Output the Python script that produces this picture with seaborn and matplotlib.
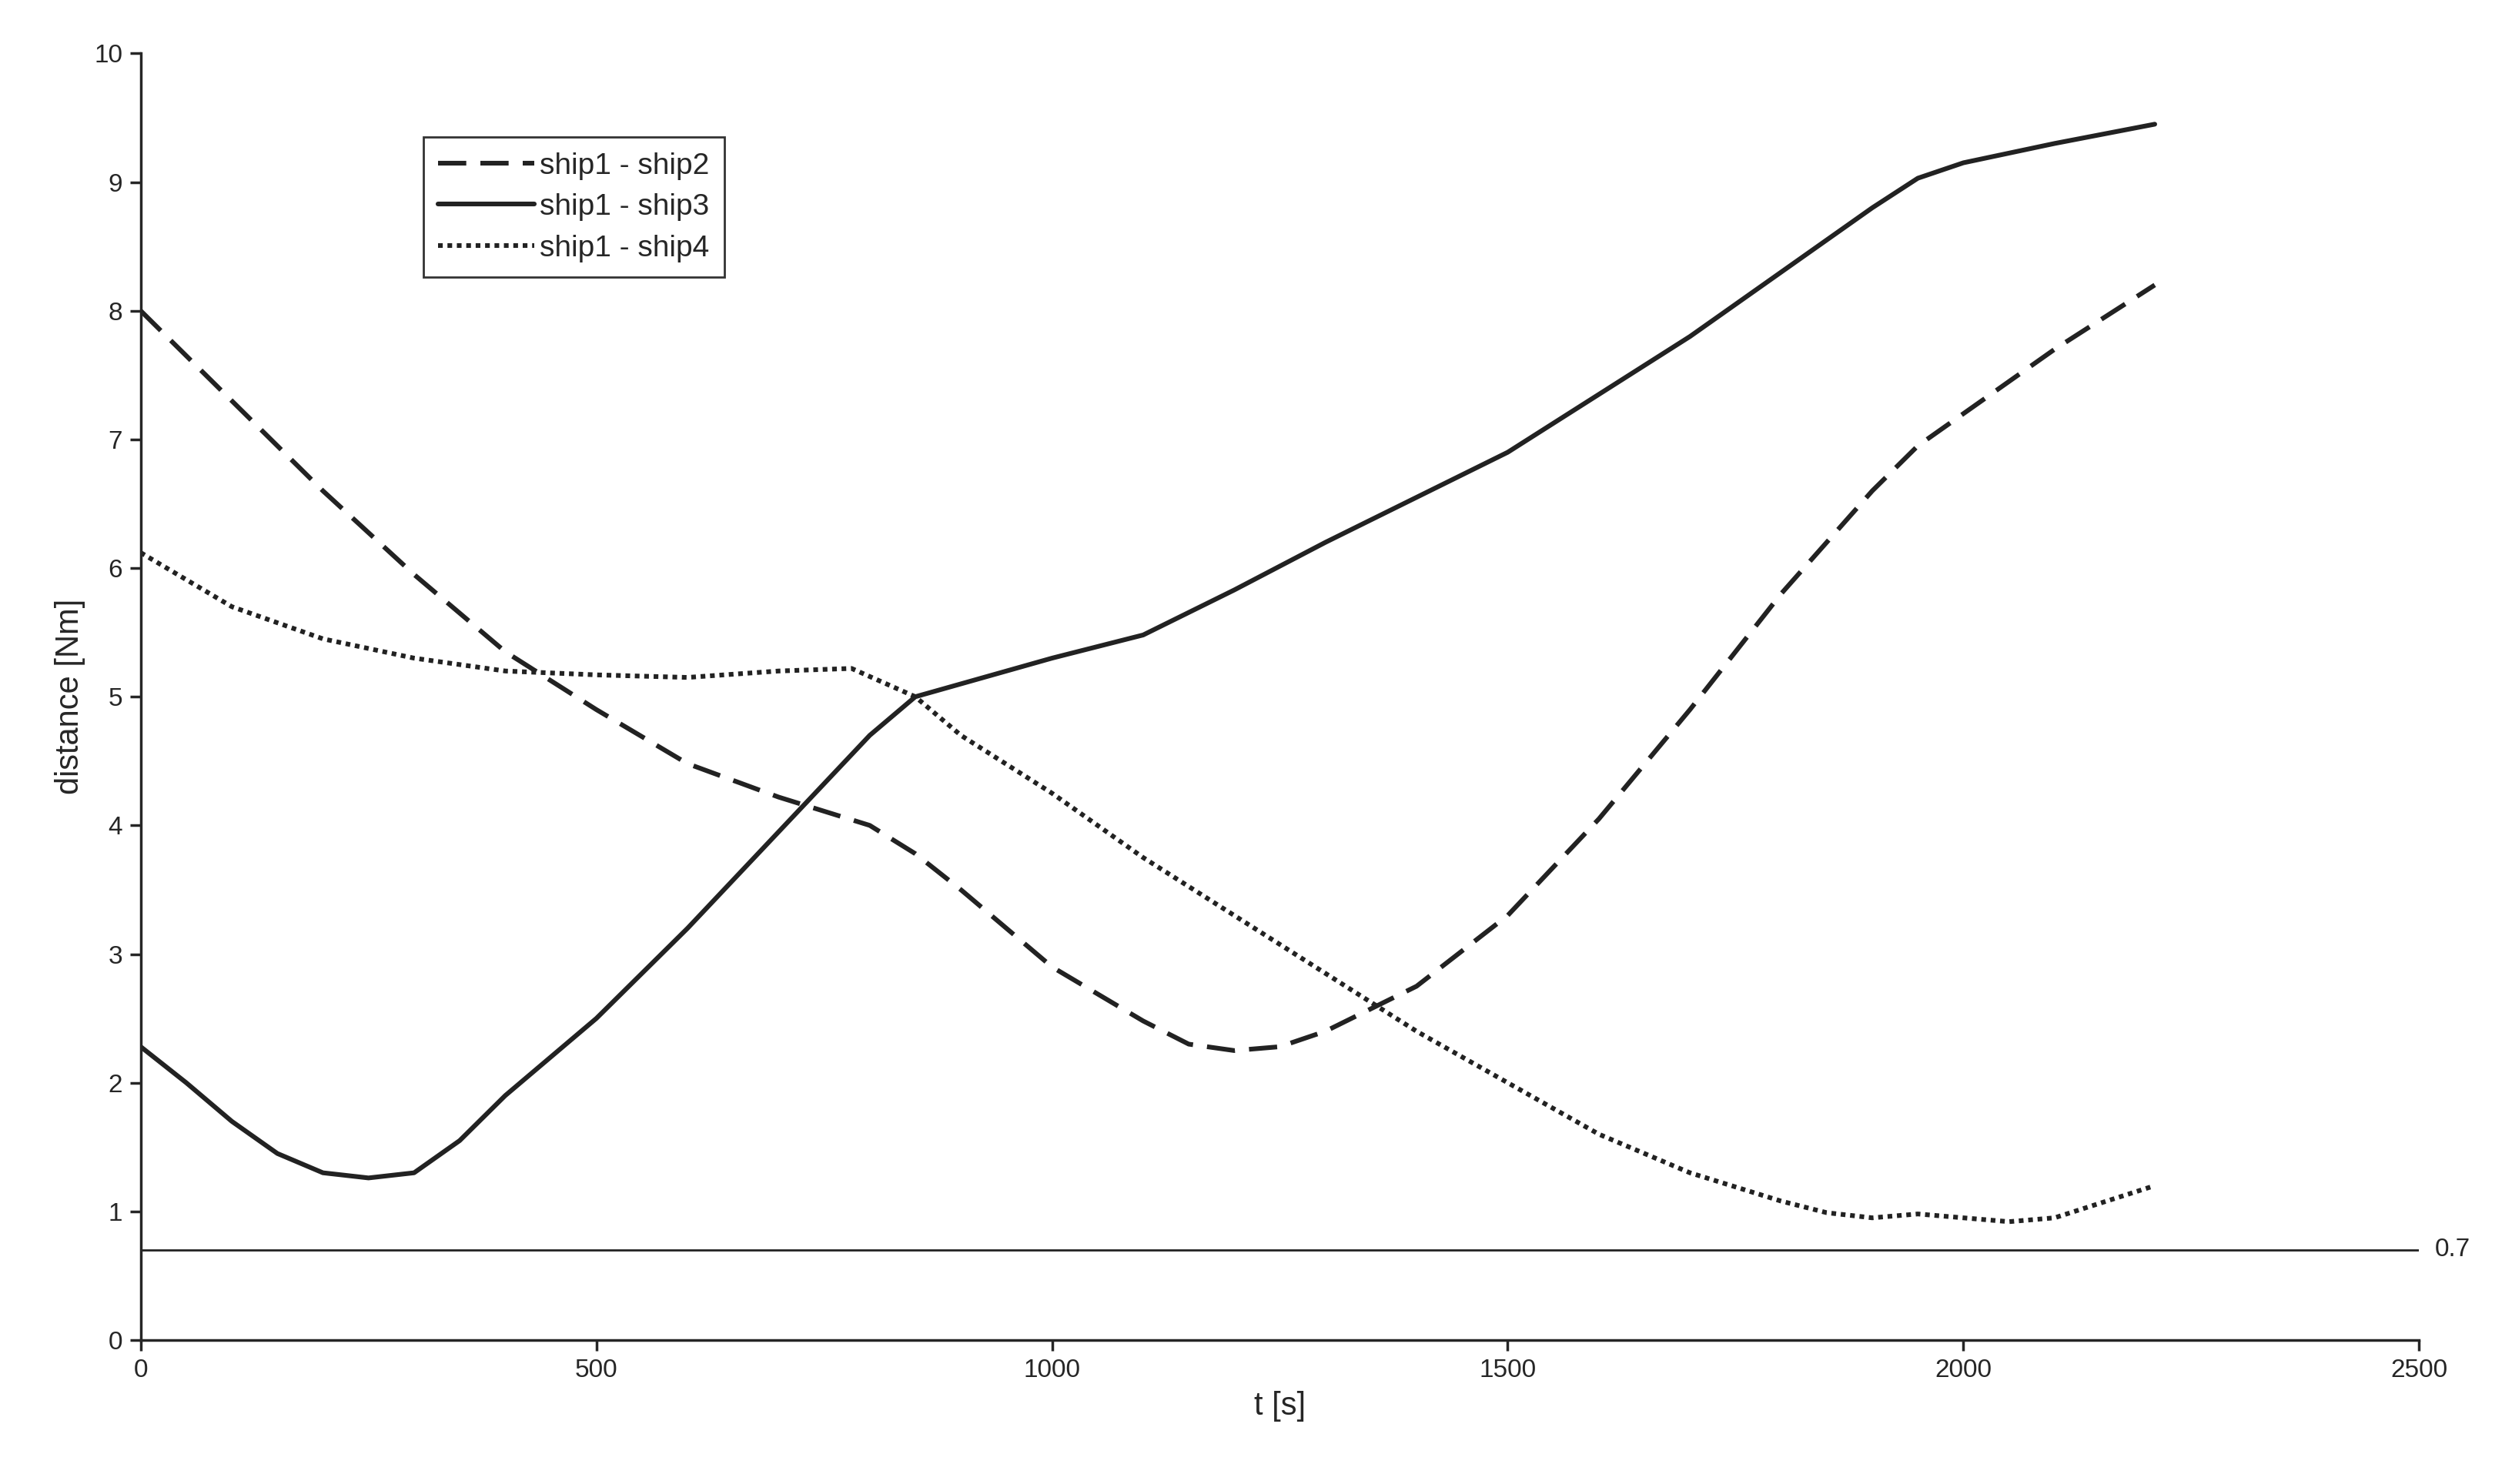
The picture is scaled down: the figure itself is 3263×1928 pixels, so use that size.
import matplotlib
matplotlib.use("Agg")
import matplotlib.pyplot as plt
import seaborn as sns
import pandas as pd

t12 = [0,100,200,300,400,500,600,700,800,850,900,1000,1100,1150,1200,1250,1300,1400,1500,1600,1700,1800,1900,1950,2000,2100,2210]
d12 = [8.0,7.3,6.6,5.95,5.35,4.9,4.48,4.22,4.0,3.78,3.5,2.9,2.48,2.3,2.25,2.28,2.4,2.75,3.3,4.05,4.9,5.8,6.6,6.95,7.2,7.7,8.2]
t13 = [0,50,100,150,200,250,300,350,400,500,600,700,800,850,900,1000,1100,1200,1300,1400,1500,1600,1700,1800,1900,1950,2000,2100,2210]
d13 = [2.28,2.0,1.7,1.45,1.3,1.26,1.3,1.55,1.9,2.5,3.2,3.95,4.7,5.0,5.1,5.3,5.48,5.83,6.2,6.55,6.9,7.35,7.8,8.3,8.8,9.03,9.15,9.3,9.45]
t14 = [0,100,200,300,400,500,600,700,780,850,900,1000,1100,1200,1300,1400,1500,1600,1700,1800,1850,1900,1950,2000,2050,2100,2210]
d14 = [6.12,5.7,5.45,5.3,5.2,5.17,5.15,5.2,5.22,5.0,4.7,4.25,3.75,3.3,2.85,2.4,2.0,1.6,1.3,1.08,0.99,0.95,0.98,0.95,0.92,0.95,1.2]
labels = ["ship1 - ship2", "ship1 - ship3", "ship1 - ship4"]
threshold = 0.7

sns.set_theme(style="ticks")
plt.rcParams['font.family'] = ['Liberation Sans', 'DejaVu Sans']
fig = plt.figure(figsize=(16.315, 9.64), dpi=200)
ax = fig.add_axes([0.056, 0.097, 0.907, 0.867])
styles = [(0, (6, 3)), "-", (0, (1, 1))]
for t, d, lab, ls in zip([t12, t13, t14], [d12, d13, d14], labels, styles):
    df = pd.DataFrame({"t": t, "d": d})
    sns.lineplot(data=df, x="t", y="d", ax=ax, color="#222222", lw=2.2, linestyle=ls, label=lab)
ax.axhline(threshold, color="#222222", lw=1)
ax.text(1.007, threshold, "0.7", transform=ax.get_yaxis_transform(), va="center", ha="left", fontsize=12)
ax.set_xlim(0, 2500); ax.set_ylim(0, 10)
ax.set_xticks(range(0, 2501, 500)); ax.set_yticks(range(0, 11))
ax.tick_params(labelsize=12, direction="out", length=5)
ax.set_xlabel("t [s]", fontsize=15); ax.set_ylabel("distance [Nm]", fontsize=15)
sns.despine(ax=ax)
leg = ax.legend(loc="upper left", bbox_to_anchor=(0.124, 0.935), fontsize=14, frameon=True,
                fancybox=False, edgecolor="black", handlelength=3.2, handletextpad=0.2,
                borderpad=0.5, labelspacing=0.45, borderaxespad=0)
leg.get_frame().set_linewidth(1)
fig.savefig("out.png", dpi=200)
